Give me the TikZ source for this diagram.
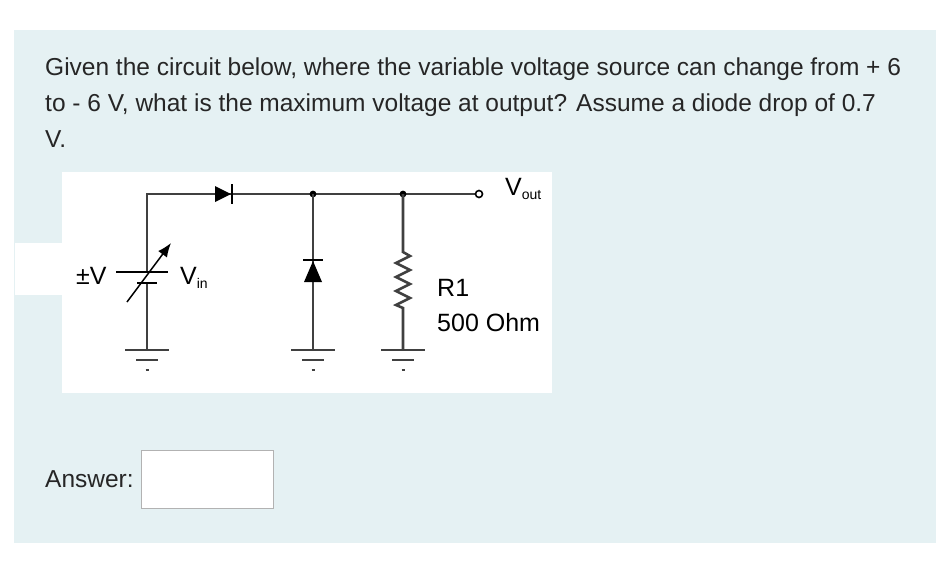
\documentclass[tikz,border=0pt]{standalone}
\usepackage{fontspec}
\setmainfont{Liberation Sans}
\usetikzlibrary{arrows.meta}
\definecolor{panel}{HTML}{E5F1F3}
\begin{document}
\begin{tikzpicture}[x=1pt,y=-1pt,
  wire/.style={line width=2.6pt,draw=black!75},
  txt/.style={font=\fontsize{24.5}{28}\selectfont,text=black!85,anchor=base west,inner sep=0},
  lab/.style={font=\fontsize{25}{28}\selectfont,anchor=base west,inner sep=0}]
\useasboundingbox (0,0) rectangle (942,562);
\fill[white] (0,0) rectangle (942,562);
\fill[panel] (14,30) rectangle (936,543);
\fill[white] (62,172) rectangle (552,393);
\fill[white] (15,243) rectangle (62,295);
\node[txt] (l1) at (45,75) {Given the circuit below, where the variable voltage source can change from + 6};
\node[txt] (l2) at (45,111) {to - 6 V, what is the maximum voltage at output? Assume a diode drop of 0.7};
\node[txt] (l3) at (45,147) {V.};
\node[txt] (ans) at (45,487) {Answer:};
\node[draw=black!30,fill=white,minimum width=132,minimum height=58,anchor=north west,inner sep=0] (box) at (141,450) {};
% circuit
\coordinate (tl) at (147,194);
\coordinate (j1) at (313,194);
\coordinate (j2) at (403,194);
\coordinate (out) at (479,194);
\draw[wire] (147,350) -- (147,283) (147,272) -- (tl) -- (j2) -- (out);
\fill[black] (215,186) -- (231,194) -- (215,202) -- cycle;
\draw[line width=2.6pt] (232,184) -- (232,204);
\fill (j1) circle (3.4) (j2) circle (3.4);
\draw[line width=1.6pt,fill=white] (out) circle (3.5);
\node[lab] (vout) at (505,195) {V\raisebox{-0.35ex}{\fontsize{14}{16}\selectfont out}};
% source
\draw[line width=2.6pt] (116,272) -- (168,272);
\draw[line width=2.6pt] (137,283) -- (157,283);
\draw[-{Latex[length=14pt,width=11pt]},line width=1.5pt] (127,302) -- (171,243);
\node[lab] (pv) at (76,284) {±V};
\node[lab] (vin) at (180,284) {V\raisebox{-0.35ex}{\fontsize{14}{16}\selectfont in}};
% vertical diode
\draw[wire] (j1) -- (313,350);
\fill[black] (304,282) -- (313,261) -- (322,282) -- cycle;
\draw[line width=2.6pt] (303,260) -- (323,260);
% resistor
\draw[wire] (j2) -- (403,252) -- (410,256) -- (396,263) -- (410,270) -- (396,277) -- (410,284) -- (396,291) -- (410,298) -- (396,305) -- (403,308) -- (403,350);
\node[lab] (r1) at (437,296) {R1};
\node[lab] (r1v) at (437,331) {500 Ohm};
% grounds
\foreach \x in {147,313,403}{
  \draw[line width=2.2pt,black!75] (\x-22,350) -- (\x+22,350);
  \draw[line width=2.2pt,black!75] (\x-11,360) -- (\x+11,360);
  \draw[line width=2.2pt,black!75] (\x-1.5,370) -- (\x+1.5,370);
}
\end{tikzpicture}
\end{document}
